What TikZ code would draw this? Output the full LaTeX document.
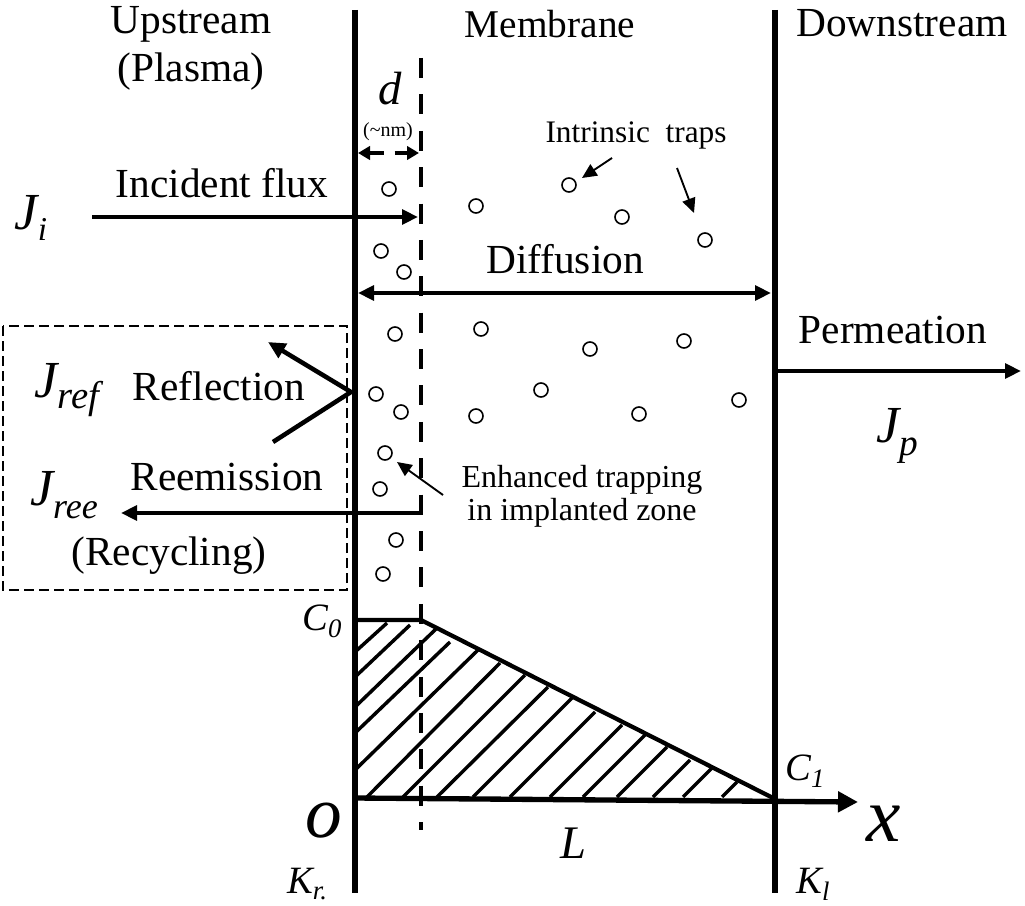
\documentclass[tikz,border=0pt]{standalone}
\usepackage{fontspec}
\setmainfont{Liberation Serif}
\usetikzlibrary{arrows.meta}
\newcommand{\fsz}[1]{\fontsize{#1}{#1}\selectfont}
\tikzset{
  lab/.style={inner sep=0pt,font=\fsz{31},align=center},
  smalllab/.style={inner sep=0pt,font=\fsz{24},align=center},
  sym/.style={inner sep=0pt,font=\fsz{39}\itshape},
  tinysym/.style={inner sep=0pt,font=\fsz{29}\itshape},
  wall/.style={line width=5.2pt},
  thick arrow/.style={line width=3.2pt,-{Triangle[length=12pt,width=11pt]}},
  thin arrow/.style={line width=1.4pt,-{Triangle[length=11pt,width=10pt]}},
  trap/.style={circle,draw,line width=1.2pt,minimum size=10.5pt,inner sep=0pt},
  hatch/.style={line width=2.6pt}
}
\begin{document}
\begin{tikzpicture}[x=0.75pt,y=-0.75pt]
\useasboundingbox (0,0) rectangle (1025,906);
% coordinates
\coordinate (wlT) at (355,10);
\coordinate (wlB) at (355,893);
\coordinate (wrT) at (775,10);
\coordinate (wrB) at (775,893);
\coordinate (dT) at (421,58);
\coordinate (dB) at (421,830);
\coordinate (C0pt) at (355,620);
\coordinate (Cd) at (421,620);
\coordinate (C1pt) at (775,799);
\coordinate (O) at (355,798);
\coordinate (xend) at (858,802);
\coordinate (refl) at (351,392);
% hatch
\foreach \xa/\ya/\xb/\yb in {
 355/652/387/623, 355/677/410/625, 355/707/437/628, 355/733/450/642, 355/770/478/650,
 367/797/500/663, 403/797/525/675, 437/797/548/687, 473/797/572/698, 510/797/595/712,
 550/797/622/725, 583/797/645/735, 617/797/667/747, 653/797/690/760, 683/797/712/768, 722/797/737/782}
  \draw[hatch] (\xa,\ya) -- (\xb,\yb);
% walls
\draw[wall] (wlT) -- (wlB);
\draw[wall] (wrT) -- (wrB);
\draw[line width=3.6pt,dash pattern=on 15pt off 12.29pt] (dT) -- (dB);
% profile
\draw[line width=3.2pt,line join=round] (C0pt) -- (Cd) -- (C1pt);
\draw[line width=4pt,-{Triangle[length=15pt,width=15pt]}] (O) -- (xend);
% box
\draw[line width=0.8pt,dash pattern=on 7.5pt off 3.75pt] (3,326) rectangle (347,590);
% flux arrows
\coordinate (incS) at (92,217);
\coordinate (incE) at (418,217);
\draw[thick arrow] (incS) -- (incE);
\coordinate (diffA) at (358,293);
\coordinate (diffB) at (771,293);
\draw[line width=3.2pt,{Triangle[length=12pt,width=11pt]}-{Triangle[length=12pt,width=11pt]}] (diffA) -- (diffB);
\coordinate (permS) at (778,371);
\coordinate (permE) at (1021,371);
\draw[thick arrow] (permS) -- (permE);
\coordinate (refS) at (273,442);
\coordinate (refE) at (268,342);
\draw[line width=3.4pt,line join=round,-{Triangle[length=13pt,width=12pt]}] (refS) -- (refl) -- (refE);
\coordinate (reeS) at (421,513);
\coordinate (reeE) at (121,513);
\draw[thick arrow] (reeS) -- (reeE);
\coordinate (dA) at (358,153);
\coordinate (dC) at (419,153);
\draw[line width=2.4pt,dash pattern=on 11pt off 8pt,{Triangle[length=9pt,width=10pt]}-{Triangle[length=9pt,width=10pt]}] (dA) -- (dC);
% traps
\foreach \n/\x/\y in {a/389/189,b/476/206,c/569/185,d/622/217,e/705/240,f/381/251,g/404/272,
 h/395/334,i/481/329,j/590/349,k/684/341,l/376/394,m/401/412,n/476/416,o/541/390,p/639/414,q/739/400,
 r/385/453,s/380/489,t/396/540,u/383/574}
  \node[trap] (trap\n) at (\x,\y) {};
% thin arrows
\coordinate (it1) at (612,158);
\coordinate (it1e) at (582,178);
\coordinate (it2) at (677,168);
\coordinate (it2e) at (694,213);
\coordinate (et) at (443,495);
\coordinate (ete) at (397,462);
\draw[thin arrow] (it1) -- (it1e);
\draw[thin arrow] (it2) -- (it2e);
\draw[thin arrow] (et) -- (ete);
% labels
\node[lab] (up) at (191,48) {Upstream\\[5pt](Plasma)};
\node[inner sep=0pt,font=\fsz{29.5}] (mem) at (550,24) {Membrane};
\node[lab] (down) at (902,23) {Downstream};
\node[lab] (inc) at (222,183) {Incident flux};
\node[lab] (dif) at (565,259) {Diffusion};
\node[lab] (per) at (893,330) {Permeation};
\node[lab] (ref) at (219,386) {Reflection};
\node[lab] (ree) at (227,477) {Reemission};
\node[lab] (rec) at (169,556) {(Recycling)};
\node[inner sep=0pt,font=\fsz{23.5},align=center] (intr) at (636,135) {Intrinsic\ \ traps};
\node[smalllab] (enh) at (582,496) {Enhanced trapping\\[1pt]in implanted zone};
\node[inner sep=0pt,font=\fsz{15}] (nm) at (388,132) {(\textasciitilde nm)};
\node[inner sep=0pt,font=\fsz{35}\itshape] (dl) at (390,89) {d};
\node[sym] (Ji) at (31,218) {J\raisebox{-8pt}{\fsz{25}i}};
\node[sym] (Jref) at (67,390) {J\raisebox{-8pt}{\fsz{29}ref}};
\node[sym] (Jree) at (64,495) {J\raisebox{-10pt}{\fsz{27}ree}};
\node[sym] (Jp) at (897,436) {J\raisebox{-10pt}{\fsz{28}p}};
\node[tinysym] (C0) at (322,621) {C\raisebox{-5pt}{\fsz{20}0}};
\node[tinysym] (C1) at (805,771) {C\raisebox{-5pt}{\fsz{20}1}};
\node[inner sep=0pt,font=\fsz{55}\itshape] (ol) at (324,821) {o};
\node[inner sep=0pt,font=\fsz{58}\itshape] (xl) at (884,824) {x};
\node[inner sep=0pt,font=\fsz{35}\itshape] (Ll) at (573,843) {L};
\node[tinysym] (Kr) at (307,884) {K\raisebox{-5pt}{\fsz{20}r.}};
\node[tinysym] (Kl) at (813,884) {K\raisebox{-5pt}{\fsz{20}l}};
\end{tikzpicture}
\end{document}
